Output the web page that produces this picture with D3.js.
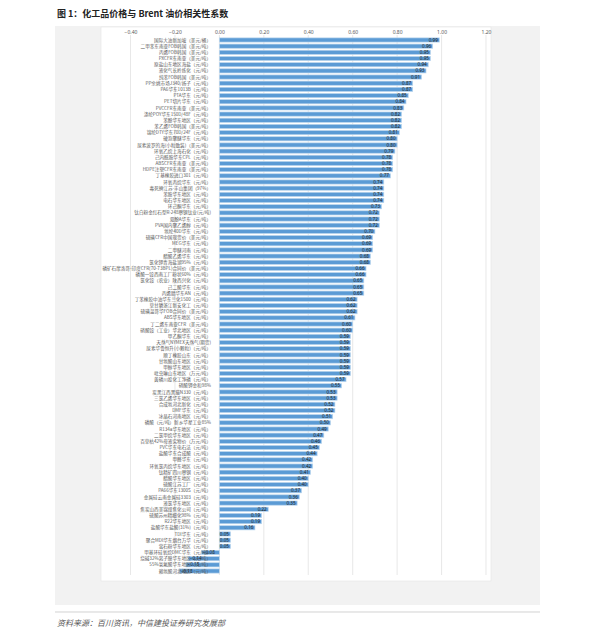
<!DOCTYPE html>
<html><head><meta charset="utf-8">
<script src="https://cdn.jsdelivr.net/npm/d3@7"></script>
<style>body{margin:0;background:#fff;}svg{display:block;font-family:"Noto Sans CJK SC","Noto Sans",sans-serif;}</style>
</head><body>
<svg id="c" width="595" height="640"></svg>
<script>
const categories = [
"国际大油新加坡（美元/桶）","二甲苯东南亚FOB韩国（美元/吨）","丙烯FOB韩国（美元/吨）","PXCFR东南亚（美元/吨）","原盐山东地区海盐（元/吨）","液化气长岭炼化（元/吨）",
"纯苯FOB韩国（美元/吨）","PP余姚市场J340/扬子（元/吨）","PA6华东1013B（元/吨）","PTA华东（元/吨）","PET切片华东（元/吨）","PVCCFR东南亚（美元/吨）","涤纶POY华东150D/48F（元/吨）","苯酚华东地区（元/吨）",
"苯乙烯FOB韩国（美元/吨）","锦纶DTY华东70D/24F（元/吨）","硬泡聚醚华东（元/吨）","尿素波罗的海(小粒散装)（美元/吨）","环氧乙烷上海石化（元/吨）","己内酰胺华东CPL（元/吨）","ABSCFR东南亚（美元/吨）","HDPE注塑CFR东南亚（美元/吨）",
"丁基橡胶进口301（元/吨）","环氧丙烷华东（元/吨）","毒死蜱江苏-丰山集团（97%）","苯胺华东地区（元/吨）","电石华东地区（元/吨）","环己酮华东（元/吨）","钛白粉金红石型R-248攀钢钛业(元/吨)",
"双酚A华东（元/吨）","PVA国内聚乙烯醇（元/吨）","氨纶40D华东（元/吨）","硫磺CFR中国现货价（美元/吨）","MEG华东（元/吨）","二甲醚河南（元/吨）","醋酸乙烯华东（元/吨）","氯化钾青海盐湖95%（元/吨）",
"磷矿石摩洛哥-印度CFR(70-73BPL)合同价（美元/吨）","磷酸一铵西南工厂粉状60%（元/吨）","氯化铵（农业）陕西兴化（元/吨）","己二酸华东（元/吨）","丙烯腈华东AN（元/吨）","丁苯橡胶中油华东兰化1500（元/吨）","草甘膦浙江新安化工（元/吨）","硫磺温哥华FOB合同价（美元/吨）",
"ABS华东地区（元/吨）","丁二烯东南亚CFR（美元/吨）","硝酸铵（工业）华北地区（元/吨）","甲乙酮华东（元/吨）","天然气NYMEX天然气(期货)","尿素华鲁恒升(小颗粒)（元/吨）","顺丁橡胶山东（元/吨）",
"甘氨酸山东地区（元/吨）","甲醇华东地区（元/吨）","吡虫啉山东地区（万元/吨）","黄磷川投化工净磷（元/吨）","硝酸钾金和98%","炭黑江西黑猫N330（元/吨）","三氯乙烯华东地区（元/吨）","合成氨河北新化（元/吨）",
"DMF华东（元/吨）","冰晶石河南地区（元/吨）","磷酸（元/吨）新乡华星工业85%","R134a华东地区（元/吨）","二氯甲烷华东地区（元/吨）","百草枯42%母液实物价（万元/吨）","PVC华东电石法（元/吨）","盐酸华东合成酸（元/吨）",
"甲醛华东（元/吨）","环氧氯丙烷华东地区（元/吨）","钛精矿四川攀钢（元/吨）","醋酸华东地区（元/吨）","硫酸江苏工厂（元/吨）","PA66华东1300S（元/吨）","金属硅云南金属硅3303（元/吨）","液氯华东地区（元/吨）",
"焦炭山西美锦煤焦化公司（元/吨）","硫酸苏州精细化98%（元/吨）","R22华东地区（元/吨）","盐酸华东盐酸(31%)（元/吨）","TDI华东（元/吨）","聚合MDI华东烟台万华（元/吨）","萤石粉华东地区（元/吨）",
"甲基环硅氧烷DMC华东（元/吨）","烧碱32%离子膜华东地区（元/吨）","55%氢氟酸华东地区（元/吨）","赖氨酸河北地区（元/吨）"
];
const values = [
0.99,0.96,0.95,0.95,0.94,0.93,
0.91,0.87,0.87,0.85,0.84,0.83,0.82,0.82,
0.82,0.81,0.80,0.80,0.79,0.78,0.78,0.78,
0.77,0.74,0.74,0.74,0.74,0.73,0.72,
0.72,0.72,0.70,0.69,0.69,0.69,0.68,0.68,
0.66,0.66,0.65,0.65,0.65,0.62,0.62,0.62,
0.61,0.60,0.60,0.59,0.59,0.59,0.59,
0.59,0.59,0.59,0.57,0.55,0.53,0.53,0.52,
0.52,0.51,0.50,0.49,0.47,0.46,0.45,0.44,
0.42,0.42,0.41,0.40,0.40,0.37,0.36,0.35,
0.22,0.19,0.19,0.16,0.05,0.05,0.05,
-0.08,-0.14,-0.15,-0.18
];
const tickValues = [-0.40,-0.20,0.00,0.20,0.40,0.60,0.80,1.00,1.20];
const titleText = "图 1：化工品价格与 Brent 油价相关性系数";
const sourceText = "资料来源：百川资讯，中信建投证券研究发展部";

const svg = d3.select("#c");
const data = categories.map((c,i)=>({c, v: values[i]}));

// frame
svg.append("rect").attr("x",55).attr("y",26).attr("width",485).attr("height",579).attr("fill","#f2f2f2");
svg.append("rect").attr("x",101).attr("y",27).attr("width",390).attr("height",554).attr("fill","#fff").attr("stroke","#e4e4e4").attr("stroke-width",0.6);

svg.append("text").attr("x",57).attr("y",17).attr("font-size",9).attr("font-weight","bold").attr("fill","#222").text(titleText);

const x = d3.scaleLinear().domain([-0.4,1.2]).range([130.5,486]);
const y = d3.scaleBand().domain(categories).range([36.9,574.1]).paddingInner(0.32).paddingOuter(0.16);

// gridlines
svg.append("g").selectAll("line").data(tickValues).join("line")
  .attr("x1",d=>x(d)).attr("x2",d=>x(d)).attr("y1",35).attr("y2",575)
  .attr("stroke","#d9d9d9").attr("stroke-width",0.6);

// top axis tick labels
const ax = d3.axisTop(x).tickValues(tickValues).tickFormat(d3.format(".2f")).tickSize(0).tickPadding(0);
const axG = svg.append("g").attr("transform","translate(0,33.5)").call(ax);
axG.select(".domain").remove();
axG.selectAll("text").attr("font-size",5).attr("fill","#595959").attr("font-family","\"Noto Sans\",sans-serif");

// bars
svg.append("g").selectAll("rect").data(data).join("rect")
  .attr("x",d=>x(Math.min(0,d.v))).attr("y",d=>y(d.c))
  .attr("width",d=>Math.abs(x(d.v)-x(0))).attr("height",y.bandwidth())
  .attr("fill","#5b9bd5").attr("stroke","#bdd7ee").attr("stroke-width",0.7);

// category labels
svg.append("g").selectAll("text").data(data).join("text")
  .attr("x",211).attr("y",d=>y(d.c)+y.bandwidth()/2).attr("dy","0.35em")
  .attr("text-anchor","end").attr("font-size",4.6).attr("fill","#595959").text(d=>d.c);

// value labels
svg.append("g").selectAll("text").data(data).join("text")
  .attr("x",d=>d.v>=0 ? x(d.v)-1.5 : x(d.v)+1.5)
  .attr("y",d=>y(d.c)+y.bandwidth()/2).attr("dy","0.35em")
  .attr("text-anchor",d=>d.v>=0?"end":"start")
  .attr("font-size",4.6).attr("fill","#262626").attr("font-family","\"Noto Sans\",sans-serif")
  .text(d=>d3.format(".2f")(d.v));

// footer
svg.append("line").attr("x1",55).attr("x2",540).attr("y1",612).attr("y2",612).attr("stroke","#bfbfbf").attr("stroke-width",0.7);
svg.append("text").attr("x",57).attr("y",626).attr("font-size",8).attr("font-style","italic").attr("fill","#595959").text(sourceText);
</script>
</body></html>
